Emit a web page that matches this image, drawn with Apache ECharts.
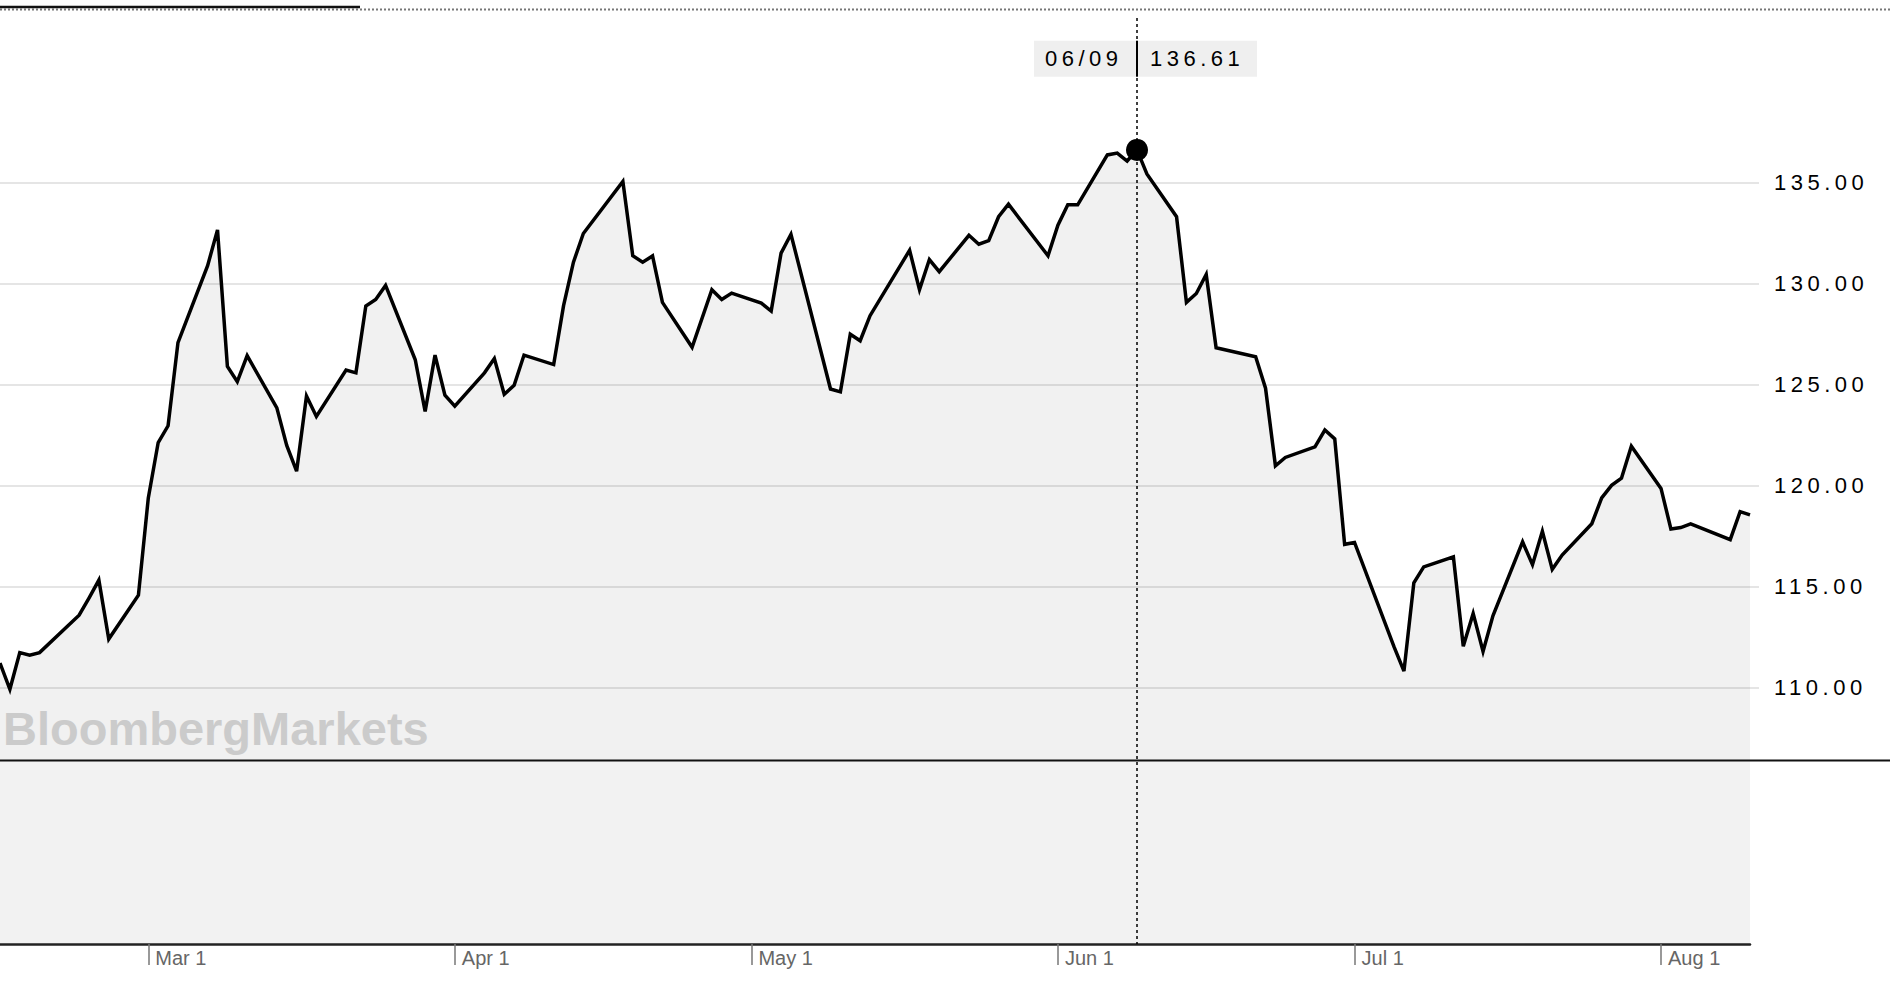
<!DOCTYPE html>
<html>
<head>
<meta charset="utf-8">
<script src="https://cdn.jsdelivr.net/npm/echarts@6/dist/echarts.min.js"></script>
<style>
html,body{margin:0;padding:0;background:#fff;}
#c{width:1890px;height:984px;}
#c text[style*="spaced"]{letter-spacing:4.5px;}
</style>
</head>
<body>
<div id="c"></div>
<script>
// ---- data ----
const dates = [
  '2022-02-14','2022-02-15','2022-02-16','2022-02-17','2022-02-18','2022-02-22','2022-02-23','2022-02-24','2022-02-25','2022-02-28',
  '2022-03-01','2022-03-02','2022-03-03','2022-03-04','2022-03-07','2022-03-08','2022-03-09','2022-03-10','2022-03-11',
  '2022-03-14','2022-03-15','2022-03-16','2022-03-17','2022-03-18','2022-03-21','2022-03-22','2022-03-23','2022-03-24','2022-03-25',
  '2022-03-28','2022-03-29','2022-03-30','2022-03-31','2022-04-01','2022-04-04','2022-04-05','2022-04-06','2022-04-07','2022-04-08',
  '2022-04-11','2022-04-12','2022-04-13','2022-04-14','2022-04-18','2022-04-19','2022-04-20','2022-04-21','2022-04-22',
  '2022-04-25','2022-04-27','2022-04-28','2022-04-29','2022-05-02','2022-05-03','2022-05-04','2022-05-05',
  '2022-05-09','2022-05-10','2022-05-11','2022-05-12','2022-05-13','2022-05-17','2022-05-18','2022-05-19','2022-05-20',
  '2022-05-23','2022-05-24','2022-05-25','2022-05-26','2022-05-27','2022-05-31','2022-06-01','2022-06-02','2022-06-03',
  '2022-06-06','2022-06-07','2022-06-08','2022-06-09','2022-06-10','2022-06-13','2022-06-14','2022-06-15','2022-06-16','2022-06-17',
  '2022-06-21','2022-06-22','2022-06-23','2022-06-24','2022-06-27','2022-06-28','2022-06-29','2022-06-30','2022-07-01',
  '2022-07-05','2022-07-06','2022-07-07','2022-07-08','2022-07-11','2022-07-12','2022-07-13','2022-07-14','2022-07-15',
  '2022-07-18','2022-07-19','2022-07-20','2022-07-21','2022-07-22','2022-07-25','2022-07-26','2022-07-27','2022-07-28','2022-07-29',
  '2022-08-01','2022-08-02','2022-08-03','2022-08-04','2022-08-08','2022-08-09','2022-08-10'
];
const closes = [
  111.20,109.90,111.72,111.59,111.72,113.57,114.42,115.31,112.39,114.56,
  119.38,122.12,122.95,127.07,130.88,132.65,125.89,125.13,126.42,
  123.84,121.98,120.70,124.42,123.41,125.71,125.57,128.88,129.20,129.90,
  126.22,123.66,126.45,124.46,123.92,125.57,126.28,124.51,124.95,126.45,
  125.98,128.90,131.05,132.47,135.05,131.37,131.05,131.36,129.06,
  126.84,129.69,129.20,129.52,129.02,128.63,131.50,132.43,
  124.77,124.63,127.48,127.16,128.40,131.64,129.69,131.18,130.58,
  132.38,131.94,132.12,133.30,133.92,131.37,132.88,133.89,133.89,
  136.36,136.45,136.06,136.61,135.42,133.30,129.06,129.50,130.44,126.81,
  126.37,124.81,120.97,121.38,121.91,122.74,122.30,117.08,117.17,
  112.00,110.80,115.17,115.96,116.46,112.03,113.66,111.77,113.54,
  117.20,116.07,117.73,115.84,116.55,118.10,119.38,120.00,120.35,121.94,
  119.85,117.84,117.91,118.09,117.31,118.70,118.54
];
const monthTicks  = ['2022-03-01','2022-04-01','2022-05-01','2022-06-01','2022-07-01','2022-08-01'];
const monthLabels = ['Mar 1','Apr 1','May 1','Jun 1','Jul 1','Aug 1'];
const yTicks = [110,115,120,125,130,135];
const xRange = ['2022-02-14','2022-08-10'];
const highlightDate = '2022-06-09';
const watermarkText = 'BloombergMarkets';

// ---- helpers ----
function ts(s){ const p = s.split('-').map(Number); return new Date(p[0], p[1]-1, p[2]).getTime(); }
const monthTickTs = monthTicks.map(ts);
const seriesData = dates.map((d,i)=>[ts(d), closes[i]]);
const hi = dates.indexOf(highlightDate);
const hiLabel = highlightDate.slice(5,7) + '/' + highlightDate.slice(8,10);
const hiValue = closes[hi].toFixed(2);

const Y_MIN = 106.371, Y_MAX = 143.586;
const PLOT_W = 1750;

const chart = echarts.init(document.getElementById('c'), null, {renderer:'svg'});
chart.setOption({
  animation:false,
  backgroundColor:'#fff',
  grid:[
    {left:0, top:9, width:PLOT_W, height:751.6, show:false},
    {left:0, top:760.6, width:PLOT_W, height:183.4, show:true, backgroundColor:'#f2f2f2', borderWidth:0}
  ],
  xAxis:[
    {type:'value', gridIndex:0, min:ts(xRange[0]), max:ts(xRange[1]), show:false},
    {type:'value', gridIndex:1, min:ts(xRange[0]), max:ts(xRange[1]),
     axisLine:{show:true, lineStyle:{color:'#222', width:2.5}},
     axisTick:{show:true, customValues:monthTickTs, length:21, lineStyle:{color:'#777', width:1.5}},
     axisLabel:{show:true, customValues:monthTickTs,
       formatter:function(v){ const i = monthTickTs.indexOf(+v); return i>=0 ? monthLabels[i] : ''; },
       color:'#666', fontSize:20, fontFamily:'Liberation Sans', align:'left', padding:[0,0,0,7], margin:4},
     splitLine:{show:false}}
  ],
  yAxis:[
    {type:'value', gridIndex:0, position:'right', min:Y_MIN, max:Y_MAX,
     axisLine:{show:false},
     axisTick:{show:true, customValues:yTicks, length:9, lineStyle:{color:'#dcdcdc', width:1.5}},
     axisLabel:{show:true, customValues:yTicks, formatter:function(v){return (+v).toFixed(2);},
       color:'#000', fontSize:22, fontFamily:'spaced, Liberation Sans', margin:24},
     splitLine:{show:true, lineStyle:{color:'#dcdcdc', width:1.5}}},
    {type:'value', gridIndex:1, show:false, min:0, max:1}
  ],
  series:[{
    type:'line', xAxisIndex:0, yAxisIndex:0, data:seriesData,
    showSymbol:false, symbol:'none',
    lineStyle:{color:'#000', width:3.5, join:'miter'},
    areaStyle:{color:'rgba(0,0,0,0.053)', opacity:1},
    markPoint:{symbol:'circle', symbolSize:22, silent:true, itemStyle:{color:'#000'}, label:{show:false},
      data:[{coord:[ts(highlightDate), closes[hi]]}]}
  }]
});

const px = chart.convertToPixel({xAxisIndex:0}, ts(highlightDate));
const bottomY = 944;
chart.setOption({
  graphic:[
    {type:'line', z:1, silent:true, shape:{x1:0, y1:9.5, x2:1890, y2:9.5}, style:{stroke:'#777', lineWidth:2, lineDash:[2,2]}},
    {type:'line', z:2, silent:true, shape:{x1:0, y1:7, x2:360, y2:7}, style:{stroke:'#111', lineWidth:2.5}},
    {type:'text', z:3, silent:true, style:{text:watermarkText, x:3, y:728, verticalAlign:'middle', align:'left',
      font:'bold 47px "Liberation Sans"', fill:'#cbcbcb'}},
    {type:'line', z:10, silent:true, shape:{x1:0, y1:760.6, x2:1890, y2:760.6}, style:{stroke:'#111', lineWidth:2}},
    {type:'line', z:1, silent:true, shape:{x1:px, y1:18, x2:px, y2:bottomY}, style:{stroke:'#000', lineWidth:1.5, lineDash:[3,3]}},
    {type:'rect', z:20, silent:true, shape:{x:px-103, y:40.7, width:223, height:36}, style:{fill:'#efefef'}},
    {type:'line', z:21, silent:true, shape:{x1:px, y1:40.7, x2:px, y2:76.7}, style:{stroke:'#000', lineWidth:2}},
    {type:'text', z:22, silent:true, style:{text:hiLabel, x:px-92, y:58.7, verticalAlign:'middle', align:'left',
      font:'22px spaced, "Liberation Sans"', fill:'#000'}},
    {type:'text', z:22, silent:true, style:{text:hiValue, x:px+13, y:58.7, verticalAlign:'middle', align:'left',
      font:'22px spaced, "Liberation Sans"', fill:'#000'}}
  ]
});
</script>
</body>
</html>
